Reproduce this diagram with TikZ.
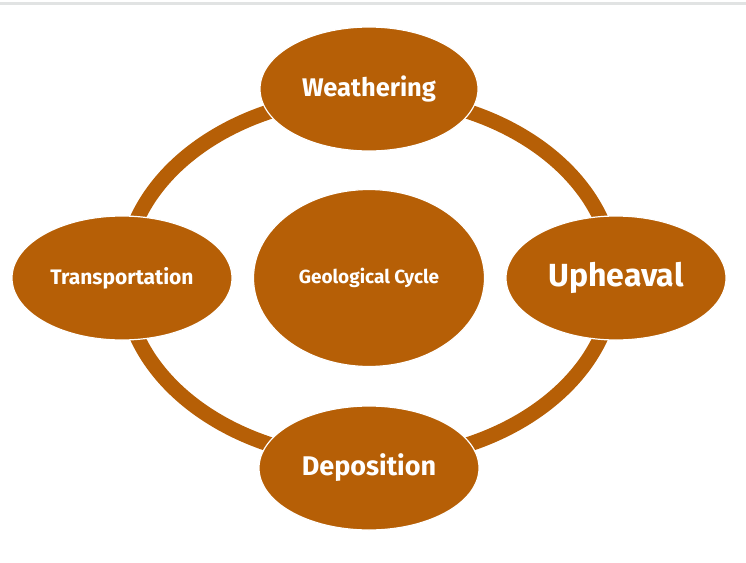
\documentclass[tikz,border=0pt]{standalone}
\usepackage{fontspec}
\setmainfont{Fira Sans}
\usepackage{tikz}
\usetikzlibrary{shapes.geometric}
\definecolor{rust}{RGB}{182,95,6}
\definecolor{topline}{RGB}{225,227,227}

\begin{document}
\begin{tikzpicture}[
  x=1pt, y=-1pt,
  blob/.style={ellipse, draw=white, line width=1.2pt, fill=rust, text=white, inner sep=0pt,
    font=\bfseries, minimum width=220pt, minimum height=124pt},
  ring/.style={draw=rust, line width=15pt}
]
  \useasboundingbox (0,0) rectangle (746,562);
  \fill[topline] (0,2) rectangle (746,5);

  \node[blob, minimum width=231pt, minimum height=177pt, font=\bfseries\fontsize{19}{22}\selectfont] (cycle) at (369,278) {Geological Cycle};
  % the ring sits behind the four stages
  \draw[ring] (cycle.center) ellipse [x radius=245pt, y radius=182pt];

  \node[blob, minimum width=218pt, font=\bfseries\fontsize{25.5}{30}\selectfont] (weather) at (369,89) {Weathering};
  \node[blob, font=\bfseries\fontsize{21}{25}\selectfont] (transport) at (122,278) {Transportation};
  \node[blob, font=\bfseries\fontsize{32}{38}\selectfont] (upheaval) at (616,278) {Upheaval};
  \node[blob, font=\bfseries\fontsize{27}{32}\selectfont] (deposit) at (369,468) {Deposition};
\end{tikzpicture}
\end{document}
